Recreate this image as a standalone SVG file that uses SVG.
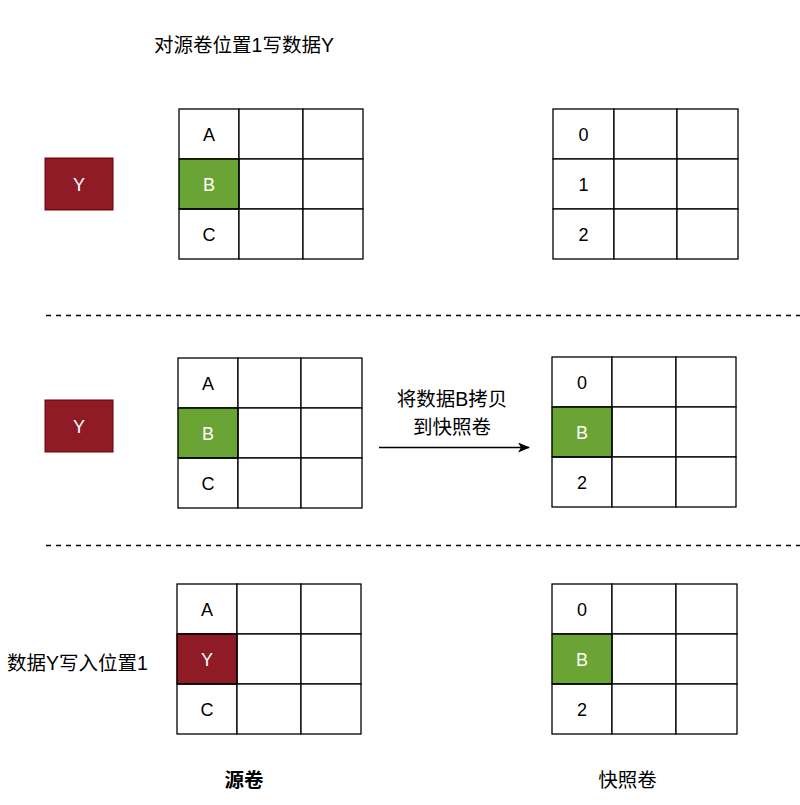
<svg xmlns="http://www.w3.org/2000/svg" width="800" height="805" viewBox="0 0 800 805">
<style>
.cell{fill:#ffffff;stroke:#000000;stroke-width:1.3}
.red{fill:#8E1B25;stroke:#6F0000;stroke-width:1}
.green{fill:#6AA435;stroke:#2D7600;stroke-width:0.5}
.t{font-family:"Liberation Sans","Noto Sans CJK SC",sans-serif;font-size:18px;fill:#000;text-anchor:middle}
.w{fill:#ffffff}
.cn{font-family:"Liberation Sans","Noto Sans CJK SC",sans-serif;font-size:19.5px;fill:#000;text-anchor:middle}
.b{font-weight:bold}
.dash{stroke:#000;stroke-width:1.3;stroke-dasharray:5 5;fill:none}
</style>
<defs>
<marker id="arr" viewBox="0 0 12 10" refX="11" refY="5" markerWidth="12" markerHeight="10" markerUnits="userSpaceOnUse" orient="auto">
<path d="M0,0 L12,5 L0,10 L3,5 Z" fill="#000"/>
</marker>
</defs>
<rect width="800" height="805" fill="#ffffff"/>

<text class="cn" x="244" y="52">对源卷位置1写数据Y</text>

<g id="y1">
<rect class="red" x="45" y="158" width="68" height="52"/>
<text class="t w" x="79" y="190.5">Y</text>
</g>

<g id="src1">
<rect class="cell" x="179" y="109" width="60" height="50"/>
<rect class="cell" x="239" y="109" width="64" height="50"/>
<rect class="cell" x="303" y="109" width="60" height="50"/>
<rect class="green" x="179" y="159" width="60" height="50"/>
<rect class="cell" x="239" y="159" width="64" height="50"/>
<rect class="cell" x="303" y="159" width="60" height="50"/>
<rect class="cell" x="179" y="209" width="60" height="50"/>
<rect class="cell" x="239" y="209" width="64" height="50"/>
<rect class="cell" x="303" y="209" width="60" height="50"/>
<line x1="179" y1="159" x2="239" y2="159" stroke="#000" stroke-width="1.3"/>
<line x1="179" y1="209" x2="239" y2="209" stroke="#000" stroke-width="1.3"/>
<line x1="179" y1="159" x2="179" y2="209" stroke="#000" stroke-width="1.3"/>
<line x1="239" y1="159" x2="239" y2="209" stroke="#000" stroke-width="1.3"/>
<text class="t" x="209" y="140.5">A</text>
<text class="t w" x="209" y="190.5">B</text>
<text class="t" x="209" y="240.5">C</text>
</g>

<g id="snap1">
<rect class="cell" x="553" y="109" width="61" height="50"/>
<rect class="cell" x="614" y="109" width="63" height="50"/>
<rect class="cell" x="677" y="109" width="61" height="50"/>
<rect class="cell" x="553" y="159" width="61" height="50"/>
<rect class="cell" x="614" y="159" width="63" height="50"/>
<rect class="cell" x="677" y="159" width="61" height="50"/>
<rect class="cell" x="553" y="209" width="61" height="50"/>
<rect class="cell" x="614" y="209" width="63" height="50"/>
<rect class="cell" x="677" y="209" width="61" height="50"/>
<text class="t" x="583.5" y="140.5">0</text>
<text class="t" x="583.5" y="190.5">1</text>
<text class="t" x="583.5" y="240.5">2</text>
</g>

<g id="sep">
<line class="dash" x1="46" y1="315.5" x2="800" y2="315.5"/>
<line class="dash" x1="46" y1="545.5" x2="800" y2="545.5"/>
</g>

<g id="y2">
<rect class="red" x="45" y="400" width="68" height="52"/>
<text class="t w" x="79" y="432.5">Y</text>
</g>

<g id="src2">
<rect class="cell" x="178" y="358" width="60" height="50"/>
<rect class="cell" x="238" y="358" width="63" height="50"/>
<rect class="cell" x="301" y="358" width="61" height="50"/>
<rect class="green" x="178" y="408" width="60" height="50"/>
<rect class="cell" x="238" y="408" width="63" height="50"/>
<rect class="cell" x="301" y="408" width="61" height="50"/>
<rect class="cell" x="178" y="458" width="60" height="50"/>
<rect class="cell" x="238" y="458" width="63" height="50"/>
<rect class="cell" x="301" y="458" width="61" height="50"/>
<line x1="178" y1="408" x2="238" y2="408" stroke="#000" stroke-width="1.3"/>
<line x1="178" y1="458" x2="238" y2="458" stroke="#000" stroke-width="1.3"/>
<line x1="178" y1="408" x2="178" y2="458" stroke="#000" stroke-width="1.3"/>
<line x1="238" y1="408" x2="238" y2="458" stroke="#000" stroke-width="1.3"/>
<text class="t" x="208" y="389.5">A</text>
<text class="t w" x="208" y="439.5">B</text>
<text class="t" x="208" y="489.5">C</text>
</g>

<g id="snap2">
<rect class="cell" x="552" y="357" width="60" height="50"/>
<rect class="cell" x="612" y="357" width="64" height="50"/>
<rect class="cell" x="676" y="357" width="60" height="50"/>
<rect class="green" x="552" y="407" width="60" height="50"/>
<rect class="cell" x="612" y="407" width="64" height="50"/>
<rect class="cell" x="676" y="407" width="60" height="50"/>
<rect class="cell" x="552" y="457" width="60" height="50"/>
<rect class="cell" x="612" y="457" width="64" height="50"/>
<rect class="cell" x="676" y="457" width="60" height="50"/>
<line x1="552" y1="407" x2="612" y2="407" stroke="#000" stroke-width="1.3"/>
<line x1="552" y1="457" x2="612" y2="457" stroke="#000" stroke-width="1.3"/>
<line x1="552" y1="407" x2="552" y2="457" stroke="#000" stroke-width="1.3"/>
<line x1="612" y1="407" x2="612" y2="457" stroke="#000" stroke-width="1.3"/>
<text class="t" x="582" y="388.5">0</text>
<text class="t w" x="582" y="438.5">B</text>
<text class="t" x="582" y="488.5">2</text>
</g>

<g id="connectors">
<line x1="379" y1="447.5" x2="529" y2="447.5" stroke="#000" stroke-width="1.3" marker-end="url(#arr)"/>
<text class="cn" x="452" y="406">将数据B拷贝</text>
<text class="cn" x="452" y="434">到快照卷</text>
</g>

<g id="src3">
<rect class="cell" x="177" y="584" width="60" height="50"/>
<rect class="cell" x="237" y="584" width="64" height="50"/>
<rect class="cell" x="301" y="584" width="60" height="50"/>
<rect class="red" x="177" y="634" width="60" height="50"/>
<rect class="cell" x="237" y="634" width="64" height="50"/>
<rect class="cell" x="301" y="634" width="60" height="50"/>
<rect class="cell" x="177" y="684" width="60" height="50"/>
<rect class="cell" x="237" y="684" width="64" height="50"/>
<rect class="cell" x="301" y="684" width="60" height="50"/>
<line x1="177" y1="634" x2="237" y2="634" stroke="#000" stroke-width="1.3"/>
<line x1="177" y1="684" x2="237" y2="684" stroke="#000" stroke-width="1.3"/>
<line x1="177" y1="634" x2="177" y2="684" stroke="#000" stroke-width="1.3"/>
<line x1="237" y1="634" x2="237" y2="684" stroke="#000" stroke-width="1.3"/>
<text class="t" x="207" y="615.5">A</text>
<text class="t w" x="207" y="665.5">Y</text>
<text class="t" x="207" y="715.5">C</text>
</g>

<text class="cn" x="77.5" y="670">数据Y写入位置1</text>

<g id="snap3">
<rect class="cell" x="552" y="584" width="60" height="50"/>
<rect class="cell" x="612" y="584" width="64" height="50"/>
<rect class="cell" x="676" y="584" width="61" height="50"/>
<rect class="green" x="552" y="634" width="60" height="50"/>
<rect class="cell" x="612" y="634" width="64" height="50"/>
<rect class="cell" x="676" y="634" width="61" height="50"/>
<rect class="cell" x="552" y="684" width="60" height="50"/>
<rect class="cell" x="612" y="684" width="64" height="50"/>
<rect class="cell" x="676" y="684" width="61" height="50"/>
<line x1="552" y1="634" x2="612" y2="634" stroke="#000" stroke-width="1.3"/>
<line x1="552" y1="684" x2="612" y2="684" stroke="#000" stroke-width="1.3"/>
<line x1="552" y1="634" x2="552" y2="684" stroke="#000" stroke-width="1.3"/>
<line x1="612" y1="634" x2="612" y2="684" stroke="#000" stroke-width="1.3"/>
<text class="t" x="582" y="615.5">0</text>
<text class="t w" x="582" y="665.5">B</text>
<text class="t" x="582" y="715.5">2</text>
</g>

<text class="cn b" x="244" y="787">源卷</text>
<text class="cn" x="627.5" y="787">快照卷</text>
</svg>
